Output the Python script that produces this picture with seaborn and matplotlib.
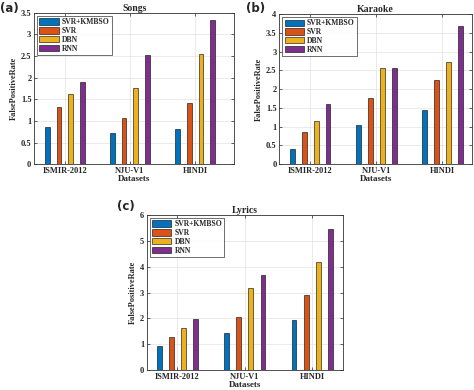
import matplotlib
matplotlib.use("Agg")
import matplotlib.pyplot as plt
import matplotlib.ticker as mticker
import seaborn as sns
import pandas as pd

# values
datasets = ["ISMIR-2012", "NJU-V1", "HINDI"]
methods = ["SVR+KMBSO", "SVR", "DBN", "RNN"]
colors = ["#0072BD", "#D95319", "#EDB120", "#7E2F8E"]

songs = {
    "SVR+KMBSO": [0.87, 0.72, 0.81],
    "SVR": [1.33, 1.06, 1.42],
    "DBN": [1.62, 1.77, 2.56],
    "RNN": [1.91, 2.53, 3.33],
}
karaoke = {
    "SVR+KMBSO": [0.41, 1.05, 1.45],
    "SVR": [0.86, 1.75, 2.25],
    "DBN": [1.15, 2.56, 2.72],
    "RNN": [1.61, 2.56, 3.68],
}
lyrics = {
    "SVR+KMBSO": [0.93, 1.43, 1.95],
    "SVR": [1.28, 2.04, 2.90],
    "DBN": [1.62, 3.17, 4.17],
    "RNN": [1.96, 3.69, 5.44],
}


def to_frame(values):
    rows = []
    for m in methods:
        for d, v in zip(datasets, values[m]):
            rows.append({"Dataset": d, "Method": m, "value": v})
    return pd.DataFrame(rows)


sns.set_theme(style="ticks")
plt.rcParams["font.family"] = ["Liberation Serif", "DejaVu Serif"]
plt.rcParams["font.weight"] = "bold"

fig = plt.figure(figsize=(4.74, 3.9), dpi=100)

# tag, title, data, ymax, ystep, axes rect, xlim, tag position
panels = [
    ("(a)", "Songs", songs, 3.5, 0.5, [0.072, 0.579, 0.422, 0.388], (-0.47, 2.6), (0.001, 0.995)),
    ("(b)", "Karaoke", karaoke, 4.0, 0.5, [0.589, 0.579, 0.407, 0.385], (-0.47, 2.45), (0.519, 0.995)),
    ("(c)", "Lyrics", lyrics, 6.0, 1.0, [0.310, 0.051, 0.414, 0.398], (-0.45, 2.46), (0.247, 0.486)),
]

for tag, title, values, ymax, step, pos, xlim, tagpos in panels:
    ax = fig.add_axes(pos)
    df = to_frame(values)
    sns.barplot(data=df, x="Dataset", y="value", hue="Method", palette=colors,
                saturation=1, width=0.72, gap=0.6, edgecolor="black",
                linewidth=0.4, ax=ax)
    ax.set_ylim(0, ymax)
    ax.set_xlim(*xlim)
    ax.yaxis.set_major_locator(mticker.MultipleLocator(step))
    ax.yaxis.set_major_formatter(mticker.FormatStrFormatter("%g"))
    ax.grid(True, color="#e2e2e2", linewidth=0.5)
    ax.set_axisbelow(True)
    for s in ax.spines.values():
        s.set_color("#333333")
        s.set_linewidth(0.6)
    ax.tick_params(direction="in", length=2, width=0.5, labelsize=6, pad=2,
                   top=True, right=True)
    for lab in ax.get_xticklabels() + ax.get_yticklabels():
        lab.set_fontweight("bold")
    ax.set_title(title, fontsize=7, fontweight="bold", pad=1.5)
    ax.set_xlabel("Datasets", fontsize=6.5, fontweight="bold", labelpad=0)
    ax.set_ylabel("FalsePositiveRate", fontsize=6, fontweight="bold", labelpad=2)
    leg = ax.legend(loc="upper left", frameon=True, fancybox=False,
                    edgecolor="black", handlelength=2.5, handleheight=0.9,
                    borderpad=0.3, labelspacing=0.1, handletextpad=0.4,
                    borderaxespad=0.4, prop={"weight": "bold", "size": 5.5})
    leg.get_frame().set_linewidth(0.5)
    fig.text(tagpos[0], tagpos[1], tag, fontsize=8.5, fontweight="bold",
             family="DejaVu Sans", ha="left", va="top")

fig.savefig("out.png", dpi=100)
